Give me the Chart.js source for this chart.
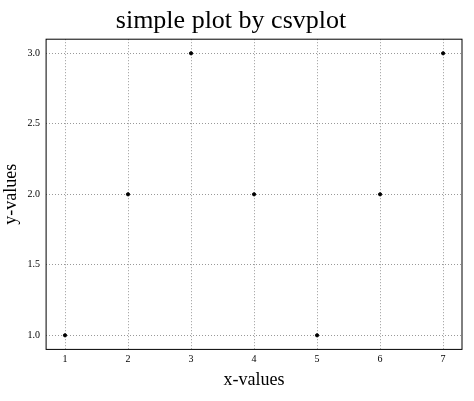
<!DOCTYPE html>
<html>
<head>
<script src="https://cdn.jsdelivr.net/npm/chart.js@4"></script>
<style>
  html, body { margin: 0; padding: 0; background: #fff; }
  #wrap { width: 474px; height: 401px; }
</style>
</head>
<body>
<div id="wrap"><canvas id="plot"></canvas></div>
<script>
const xValues = [1, 2, 3, 4, 5, 6, 7];
const yValues = [1, 2, 3, 2, 1, 2, 3];
const yTicks = [1.0, 1.5, 2.0, 2.5, 3.0];

const font = "'Liberation Serif', serif";

// draws the plot frame on top of the chart area
const frame = {
  id: "frame",
  afterDraw(c) {
    const { ctx, chartArea: a } = c;
    ctx.save();
    ctx.strokeStyle = "#000";
    ctx.lineWidth = 1;
    ctx.strokeRect(a.left, a.top, a.right - a.left, a.bottom - a.top);
    ctx.restore();
  }
};

new Chart(document.getElementById("plot"), {
  type: "scatter",
  data: {
    datasets: [{
      data: xValues.map((x, i) => ({ x, y: yValues[i] })),
      backgroundColor: "#000",
      borderColor: "#000",
      pointRadius: 1.6
    }]
  },
  options: {
    responsive: true,
    maintainAspectRatio: false,
    animation: false,
    layout: { padding: { left: 0, right: 12, top: 2, bottom: 10 } },
    plugins: {
      legend: { display: false },
      tooltip: { enabled: false },
      title: {
        display: true,
        text: "simple plot by csvplot",
        color: "#000",
        font: { family: font, size: 26, weight: "normal" },
        padding: { top: 4, bottom: 2 }
      }
    },
    scales: {
      x: {
        type: "linear",
        min: 0.7,
        max: 7.3,
        afterBuildTicks: ax => { ax.ticks = xValues.map(v => ({ value: v })); },
        ticks: { color: "#000", font: { family: font, size: 10 }, padding: 4 },
        grid: { color: "#999", drawTicks: false },
        border: { display: false, dash: [1, 2] },
        title: { display: true, text: "x-values", color: "#000", font: { family: font, size: 18 }, padding: 0 }
      },
      y: {
        min: 0.9,
        max: 3.1,
        afterBuildTicks: ax => { ax.ticks = yTicks.map(v => ({ value: v })); },
        ticks: { color: "#000", font: { family: font, size: 10 }, padding: 6, callback: v => v.toFixed(1) },
        grid: { color: "#999", drawTicks: false },
        border: { display: false, dash: [1, 2] },
        title: { display: true, text: "y-values", color: "#000", font: { family: font, size: 18 }, padding: 0 }
      }
    }
  },
  plugins: [frame]
});
</script>
</body>
</html>
